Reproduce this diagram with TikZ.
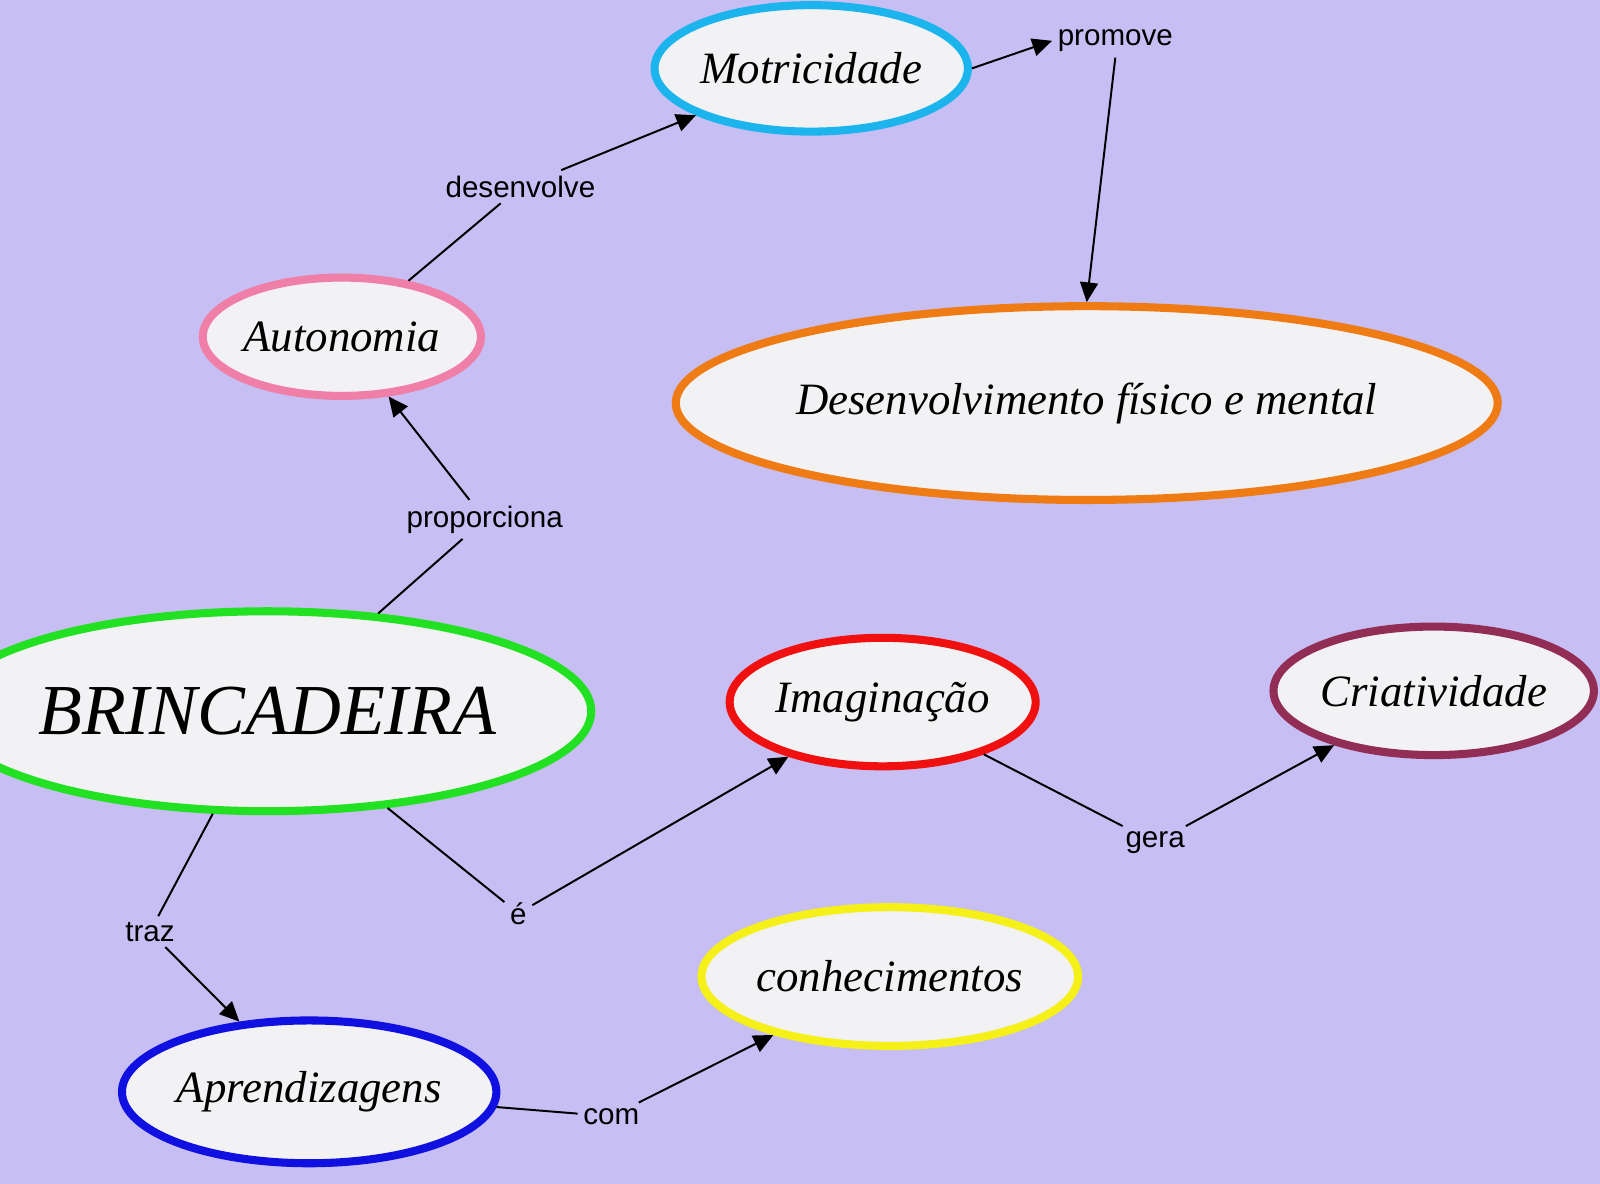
\documentclass[tikz,border=0pt]{standalone}
\usepackage{fontspec}
\setmainfont{Liberation Serif}
\newfontfamily\labfont{Liberation Sans}
\usetikzlibrary{shapes.geometric,arrows.meta}
\definecolor{bg}{HTML}{C7BEF4}
\definecolor{shad}{HTML}{8A2D55}
\definecolor{fillc}{HTML}{F2F1F3}
\definecolor{cmot}{HTML}{1CB4EC}
\definecolor{caut}{HTML}{F07FA8}
\definecolor{cdes}{HTML}{EE7B14}
\definecolor{cbri}{HTML}{22E022}
\definecolor{cima}{HTML}{F01010}
\definecolor{ccri}{HTML}{922E55}
\definecolor{ccon}{HTML}{F4F018}
\definecolor{capr}{HTML}{1010E0}
\tikzset{
 ell/.style args={#1/#2/#3}{ellipse, draw=#1, line width=4.5pt, fill=fillc,
   minimum width=#2*0.04cm, minimum height=#3*0.04cm, inner sep=0pt,
   font=\itshape\fontsize{25}{30}\selectfont,
   preaction={fill=shad, transform canvas={shift={(0.14,-0.18)}}}},
 lab/.style={font=\labfont\fontsize{16.5}{20}\selectfont, inner sep=3pt},
 con/.style={line width=1.1pt},
 arr/.style={line width=1.1pt, -{Triangle[length=11pt,width=10pt]}}
}
\begin{document}
\begin{tikzpicture}[x=0.02cm,y=-0.02cm]
\fill[bg] (0,0) rectangle (1568,1160);
\useasboundingbox (0,0) rectangle (1568,1160);
\node[ell=cmot/145/62] (mot) at (795,67) {Motricidade};
\node[ell=caut/135/58] (aut) at (335,330) {Autonomia};
\node[ell=cdes/322/95] (des) at (1065,395) {Desenvolvimento físico e mental};
\node[ell=cbri/258/98, font=\itshape\fontsize{40}{46}\selectfont] (bri) at (262,697) {BRINCADEIRA};
\node[ell=cima/150/63] (ima) at (865,688) {Imaginação};
\node[ell=ccri/147/63] (cri) at (1405,677) {Criatividade};
\node[ell=ccon/168/68] (con) at (872,957) {conhecimentos};
\node[ell=capr/170/70] (apr) at (303,1070) {Aprendizagens};

\node[lab] (pro) at (1093,40) {promove};
\node[lab] (dsv) at (510,183) {desenvolve};
\node[lab] (ppc) at (475,509) {proporciona};
\node[lab] (e) at (508,895) {é};
\node[lab] (ger) at (1132,826) {gera};
\node[lab] (tra) at (147,913) {traz};
\node[lab] (com) at (599,1094) {com};

\draw[arr] (mot.east) -- (pro.west);
\draw[arr] (pro.south) -- (des.north);
\draw[con] (aut) -- (dsv);
\draw[arr] (dsv) -- (mot);
\draw[con] (bri) -- (ppc);
\draw[arr] (ppc) -- (aut);
\draw[con] (bri) -- (e);
\draw[arr] (e) -- (ima);
\draw[con] (ima) -- (ger);
\draw[arr] (ger) -- (cri);
\draw[con] (bri) -- (tra);
\draw[arr] (tra) -- (apr);
\draw[con] (apr) -- (com);
\draw[arr] (com) -- (con);
\end{tikzpicture}
\end{document}
